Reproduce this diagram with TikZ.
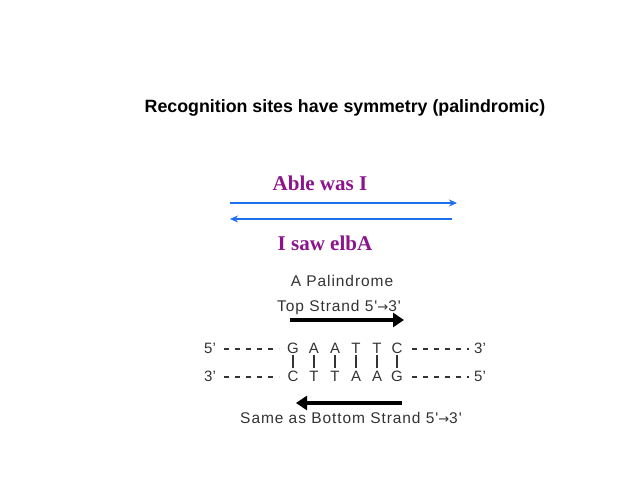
\documentclass[tikz,border=0pt]{standalone}
\usepackage{fontspec}
\setmainfont{Liberation Sans}
\newfontfamily\serifb{Liberation Serif}
\newfontfamily\dvs{DejaVu Sans}
\newfontfamily\widesans[LetterSpace=6]{Liberation Sans}
\usetikzlibrary{arrows.meta}
\definecolor{purp}{RGB}{140,20,140}
\definecolor{blu}{RGB}{30,110,240}
\begin{document}
\begin{tikzpicture}[x=1pt,y=-1pt,
 lbl/.style={inner sep=0pt,font=\widesans\fontsize{15.5}{17}\selectfont,text=black!80},
 pal/.style={inner sep=0pt,font=\serifb\bfseries\fontsize{21}{23}\selectfont,text=purp},
 barr/.style={blu,line width=1.3pt,-{Stealth[length=8pt,width=7pt]}},
 karr/.style={black,line width=4.5pt,-{Triangle[length=11pt,width=14pt]}},
 seq/.style={inner sep=0pt,font=\fontsize{15}{16}\selectfont,text=black!80},
 dsh/.style={black!80,line width=1.3pt,dash pattern=on 5pt off 6pt}]
\useasboundingbox (0,0) rectangle (638,478);
\node[inner sep=0pt,font=\bfseries\fontsize{17.8}{19}\selectfont] (title) at (345,108) {Recognition sites have symmetry (palindromic)};
\node[pal] (able) at (320,183) {Able was I};
\coordinate (a1) at (230,203); \coordinate (a2) at (457,203);
\coordinate (b1) at (452,219); \coordinate (b2) at (230,219);
\draw[barr] (a1) -- (a2);
\draw[barr] (b1) -- (b2);
\node[pal] (saw) at (325,243) {I saw elbA};
\node[lbl] (ap) at (342,281) {A Palindrome};
\node[lbl] (top) at (339,307) {Top Strand 5'{\dvs\fontsize{13}{12}\selectfont →}3'};
\coordinate (t1) at (290,320); \coordinate (t2) at (404,320);
\draw[karr] (t1) -- (t2);
\node[seq] (l5) at (210,348) {5'};
\node[seq] (r3) at (480,348) {3'};
\node[seq] (l3) at (210,376) {3'};
\node[seq] (r5) at (480,376) {5'};
\foreach \x/\t/\b [count=\i] in {293/G/C,314/A/T,335/A/T,356/T/A,377/T/A,397/C/G}{
 \node[seq] (t\i) at (\x,348) {\t};
 \node[seq] (b\i) at (\x,376) {\b};
 \draw[black!80,line width=1.3pt] (\x,355) -- (\x,368);
}
\draw[dsh] (224,349) -- (279,349);
\draw[dsh] (412,349) -- (469,349);
\draw[dsh] (224,377) -- (279,377);
\draw[dsh] (412,377) -- (469,377);
\coordinate (u1) at (402,403); \coordinate (u2) at (296,403);
\draw[karr] (u1) -- (u2);
\node[lbl] (bot) at (351,418) {Same as Bottom Strand 5'{\dvs\fontsize{13}{12}\selectfont →}3'};
\end{tikzpicture}
\end{document}
